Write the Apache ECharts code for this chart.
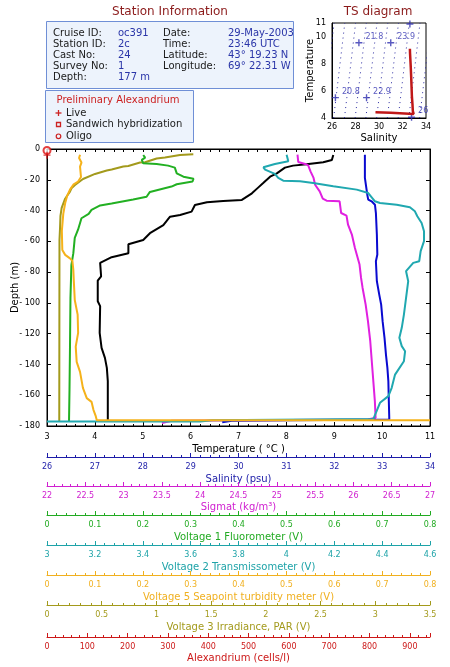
<!DOCTYPE html>
<html><head><meta charset="utf-8">
<script src="https://cdn.jsdelivr.net/npm/echarts@6.0.0/dist/echarts.min.js"></script>
<style>html,body{margin:0;padding:0;background:#fff}#chart{width:450px;height:667px}</style>
</head><body><div id="chart"></div><script>
const FONT = '"DejaVu Sans", Verdana, sans-serif';

// ---------- profile data (depth in m, negative down) ----------
const tempDepth = [-3.9,-7.1,-8.6,-9.9,-10.8,-12.1,-15.8,-18,-22.3,-25.1,-28.8,-33.1,-33.8,-34.6,-36.4,-40.7,-42.9,-44,-49.4,-54.7,-59.1,-61.9,-67.7,-70.3,-74,-75.1,-82.7,-85.5,-98.9,-102.1,-119.5,-129.2,-135.7,-142.2,-150.8,-163.6,-176.8];
const tempVal   = [8.98,8.95,8.77,8.42,8.14,7.97,7.80,7.66,7.51,7.41,7.28,7.07,6.68,6.34,6.09,6.02,5.78,5.57,5.43,5.15,5.01,4.70,4.70,4.35,4.11,4.07,4.13,4.06,4.06,4.11,4.10,4.14,4.21,4.25,4.27,4.27,4.27];

const salDepth = [-3.7,-18.8,-29.7,-32.9,-34,-36.2,-41.6,-55.6,-68.6,-72.9,-85.9,-94.6,-101.1,-111.9,-122.7,-133.6,-142.2,-150.8,-163.8,-175.8,-176.2,-176.6,-177.6];
const salVal   = [32.64,32.64,32.69,32.71,32.78,32.85,32.87,32.89,32.90,32.87,32.89,32.94,32.98,33.01,33.05,33.08,33.11,33.13,33.14,33.15,33.15,29.86,29.66];

const sigDepth = [-3.7,-8.4,-9.7,-10.6,-14.5,-18.8,-23.2,-27.5,-32.3,-33.6,-34,-41.6,-43.3,-49.2,-55.6,-64.3,-69.7,-75.1,-83.8,-90.3,-101.1,-111.9,-124.9,-137.9,-150.8,-163.8,-174.7,-175.8,-176.6,-178];
const sigVal   = [25.27,25.28,25.37,25.41,25.44,25.48,25.50,25.56,25.60,25.65,25.82,25.84,25.91,25.93,25.98,26.02,26.05,26.08,26.10,26.12,26.16,26.19,26.22,26.24,26.26,26.28,26.29,26.19,23.63,23.50];

const fluDepth = [-3.9,-5.6,-7.1,-9.3,-9.7,-10.8,-12.1,-15.8,-18,-19.3,-21.1,-22.9,-24.4,-25.5,-27.9,-31,-32.8,-35.4,-36.7,-39.6,-42.2,-45,-52.3,-57.8,-67.7,-75.3,-96.8,-129.2,-156.5,-176.8];
const fluVal   = [0.201,0.205,0.198,0.201,0.229,0.253,0.267,0.271,0.285,0.306,0.304,0.271,0.260,0.257,0.215,0.208,0.180,0.135,0.111,0.093,0.087,0.072,0.065,0.058,0.055,0.051,0.049,0.048,0.047,0.046];

const traDepth = [-3.7,-8.0,-9.7,-11.9,-13.4,-16.2,-18.8,-20.6,-21,-22.1,-24.2,-26.4,-28.6,-34,-35.1,-36.2,-37.9,-40.5,-43.7,-48.1,-53.4,-59.9,-66.4,-72.9,-74,-79.4,-85.9,-96.8,-107.6,-116.2,-122.7,-128.1,-131.4,-137.9,-146.6,-155.2,-160.6,-164.9,-170.3,-175.5,-176.2,-177.0,-177.0];
const traVal   = [4.001,4.008,3.952,3.904,3.911,3.952,3.966,3.987,4.057,4.112,4.196,4.294,4.342,4.370,4.391,4.461,4.516,4.537,4.547,4.565,4.575,4.575,4.561,4.555,4.530,4.500,4.509,4.500,4.491,4.482,4.472,4.482,4.496,4.491,4.454,4.440,4.426,4.391,4.377,4.363,3.690,3.640,3.0];

const turDepth = [-3.7,-5.8,-8.8,-9.7,-11.4,-18.2,-21.1,-23.2,-26.4,-30.5,-35.1,-42.2,-53.2,-65.6,-68.8,-71.1,-72.7,-78.6,-85.7,-98.1,-107.6,-119.5,-128.4,-138.3,-144.8,-155.2,-161.9,-164.3,-169.5,-173.8,-176.2,-176.3];
const turVal   = [0.069,0.067,0.072,0.075,0.069,0.071,0.065,0.055,0.048,0.042,0.038,0.034,0.031,0.032,0.038,0.048,0.053,0.055,0.056,0.058,0.064,0.065,0.060,0.062,0.069,0.075,0.083,0.093,0.097,0.102,0.104,0.8];

const parDepth = [-3.4,-3.9,-5.5,-6.2,-8.6,-8.8,-11.0,-11.4,-13.3,-14,-16.2,-19.5,-23.4,-25.3,-27.7,-32.5,-38.3,-43.5,-51.5,-59.1,-177.3];
const parVal   = [1.337,1.215,1.078,1.002,0.896,0.850,0.743,0.697,0.591,0.546,0.439,0.329,0.256,0.226,0.210,0.164,0.134,0.123,0.119,0.114,0.112];

const alexLiveDepth = [-4];  const alexLiveVal = [0];
const alexOligoDepth = [-1]; const alexOligoVal = [0];

// ---------- TS diagram data ----------
const tsSal  = [32.63,32.64,32.70,32.74,32.77,32.80,32.85,32.88,32.95,33.0,32.9,31.0,29.7];
const tsTemp = [9.1,8.8,7.8,7.0,6.3,5.6,5.0,4.5,4.3,4.2,4.35,4.38,4.42];
const isoSalBottom = [25.23,26.14,27.06,27.97,28.88,29.80,30.71,31.63,32.54,33.46];
const isoSalTop    = [26.18,27.09,28.01,28.92,29.83,30.75,31.66,32.58,33.49,34.41];
const isoTBottom = 4, isoTTop = 11;
const markSal   = [26.29,28.29,28.94,31.0,32.77,32.63];
const markTemp  = [5.5,9.55,5.5,9.55,4.05,10.93];
const markLabel = ['20.8','21.8','22.9','23.9','26',''];

// ---------- station info text ----------
const infoLabels1 = ['Cruise ID:','Station ID:','Cast No:','Survey No:','Depth:'];
const infoValues1 = ['oc391','2c','24','1','177 m'];
const infoLabels2 = ['Date:','Time:','Latitude:','Longitude:'];
const infoValues2 = ['29-May-2003','23:46 UTC','43\u00b0 19.23 N','69\u00b0 22.31 W'];
const legendItems = ['Live','Sandwich hybridization','Oligo'];

const pairs = (v, d) => v.map((x, i) => [x, d[i]]);

function lowerAxis(name, min, max, interval, offset, color, nameGap, extra) {
  return Object.assign({
    type: 'value', gridIndex: 0, position: 'bottom', offset, min, max, interval,
    name, nameLocation: 'middle', nameGap, nameMoveOverlap: false,
    nameTextStyle: { color, fontFamily: FONT, fontSize: 10 },
    axisLine: { show: true, onZero: false, lineStyle: { color, width: 1 } },
    axisTick: { show: true, inside: true, length: 4, lineStyle: { color } },
    minorTick: { show: true, splitNumber: 5, length: 2, lineStyle: { color } },
    axisLabel: { color, fontFamily: FONT, fontSize: 8, margin: 6 },
    splitLine: { show: false }, minorSplitLine: { show: false }
  }, extra || {});
}

const xAxes = [
  lowerAxis('Temperature ( \u00b0C )', 3, 11, 1, 0, '#000', 18, {axisLabel:{color:'#000',fontFamily:FONT,fontSize:8,margin:7}}),
  lowerAxis('Salinity (psu)', 26, 34, 1, 31, '#1c1ca8', 17),
  lowerAxis('Sigmat (kg/m\u00b3)', 22, 27, 0.5, 60, '#d020d0', 16),
  lowerAxis('Voltage 1 Fluorometer (V)', 0, 0.8, 0.1, 89, '#22aa22', 17),
  lowerAxis('Voltage 2 Transmissometer (V)', 3, 4.6, 0.2, 119, '#1ea3a8', 17),
  lowerAxis('Voltage 5 Seapoint turbidity meter (V)', 0, 0.8, 0.1, 149, '#f0b020', 17),
  lowerAxis('Voltage 3 Irradiance, PAR (V)', 0, 3.5, 0.5, 179, '#a39a1c', 17),
  lowerAxis('Alexandrium (cells/l)', 0, 950, 100, 211, '#cc1818', 16,
    {axisLabel:{color:'#cc1818',fontFamily:FONT,fontSize:8,margin:6,showMaxLabel:false}}),
  { type:'value', gridIndex:0, position:'top', min:3, max:11, interval:0.2,
    axisLine:{show:true,onZero:false,lineStyle:{color:'#000'}},
    axisTick:{show:true,inside:true,length:3,lineStyle:{color:'#000'}},
    axisLabel:{show:false}, splitLine:{show:false} },
  { type:'value', gridIndex:1, position:'bottom', min:26, max:34, interval:2,
    name:'Salinity', nameLocation:'middle', nameGap:15, nameMoveOverlap:false,
    nameTextStyle:{color:'#000',fontFamily:FONT,fontSize:10},
    axisLine:{show:true,onZero:false,lineStyle:{color:'#000'}},
    axisTick:{show:false}, axisLabel:{color:'#000',fontFamily:FONT,fontSize:8,margin:5},
    splitLine:{show:false} }
];

const yAxes = [
  { type:'value', gridIndex:0, position:'left', min:-180, max:0, interval:20,
    name:'Depth (m)', nameLocation:'middle', nameGap:27, nameMoveOverlap:false,
    nameTextStyle:{color:'#000',fontFamily:FONT,fontSize:10},
    axisLine:{show:true,onZero:false,lineStyle:{color:'#000'}},
    axisTick:{show:true,inside:true,length:4,lineStyle:{color:'#000'}},
    axisLabel:{color:'#000',fontFamily:FONT,fontSize:8,margin:7,
      formatter: v => v === 0 ? '0' : '- ' + (-v)},
    splitLine:{show:false} },
  { type:'value', gridIndex:0, position:'right', min:-180, max:0, interval:20,
    axisLine:{show:true,onZero:false,lineStyle:{color:'#000'}},
    axisTick:{show:true,inside:true,length:4,lineStyle:{color:'#000'}},
    axisLabel:{show:false}, splitLine:{show:false} },
  { type:'value', gridIndex:1, position:'left', min:4, max:11, interval:2,
    name:'Temperature', nameLocation:'middle', nameGap:17, nameMoveOverlap:false,
    nameTextStyle:{color:'#000',fontFamily:FONT,fontSize:10},
    axisLine:{show:true,onZero:false,lineStyle:{color:'#000'}},
    axisTick:{show:false}, axisLabel:{color:'#000',fontFamily:FONT,fontSize:8,margin:6},
    splitLine:{show:false} }
];

function prof(data, xi, color, z) {
  return { type:'line', xAxisIndex:xi, yAxisIndex:0, data, showSymbol:false, symbol:'none',
    lineStyle:{color, width:2}, z: z || 2, silent:true, clip:true };
}

const plusPath = 'path://M4,0h2v4h4v2h-4v4h-2v-4h-4v-2h4z';

const series = [
  prof(pairs(parVal, parDepth), 6, '#a39a1c'),
  prof(pairs(fluVal, fluDepth), 3, '#22b022'),
  prof(pairs(tempVal, tempDepth), 0, '#000000'),
  prof(pairs(sigVal, sigDepth), 2, '#e020e0'),
  prof(pairs(salVal, salDepth), 1, '#0a0ad0'),
  prof(pairs(traVal, traDepth), 4, '#20a8b0'),
  prof(pairs(turVal, turDepth), 5, '#f5b21a', 5),
  { type:'scatter', xAxisIndex:7, yAxisIndex:0, data:pairs(alexOligoVal, alexOligoDepth),
    symbol:'emptyCircle', symbolSize:7, itemStyle:{color:'#dd1111', borderWidth:1.3}, clip:false, z:10 },
  { type:'scatter', xAxisIndex:7, yAxisIndex:0, data:pairs(alexLiveVal, alexLiveDepth),
    symbol:plusPath, symbolSize:7, itemStyle:{color:'#dd1111'}, clip:false, z:10 }
];

isoSalBottom.forEach((s, i) => {
  series.push({ type:'line', xAxisIndex:9, yAxisIndex:2, data:[[s, isoTBottom],[isoSalTop[i], isoTTop]],
    showSymbol:false, symbol:'none', clip:true, silent:true,
    lineStyle:{color:'#2a2aa0', width:1, type:[1,4]} });
});
series.push({ type:'scatter', xAxisIndex:9, yAxisIndex:2,
  data: markSal.map((s, i) => ({ value:[s, markTemp[i]], label:{ show: markLabel[i] !== '', formatter: markLabel[i] } })),
  symbol:plusPath, symbolSize:7, itemStyle:{color:'#3030b0'}, clip:false,
  label:{ position:'right', offset:[-2,-6], color:'#3030b0', fontFamily:FONT, fontSize:8 } });
series.push({ type:'line', xAxisIndex:9, yAxisIndex:2, data:pairs(tsSal, tsTemp),
  showSymbol:false, symbol:'none', lineStyle:{color:'#c01818', width:2.5}, z:4 });

// ---------- graphics: boxes and texts ----------
const graphics = [];
function txt(x, y, text, color, size, align, weight) {
  graphics.push({ type:'text', x, y, z:100, silent:true,
    style:{ text, fill:color, font:(weight||'normal') + ' ' + size + 'px ' + FONT,
      align: align || 'left', verticalAlign:'middle', textAlign: align || 'left', textVerticalAlign:'middle' } });
}
txt(170, 12, 'Station Information', '#8b1a1a', 12, 'center');
txt(378, 12, 'TS diagram', '#8b1a1a', 12, 'center');
graphics.push({ type:'rect', shape:{x:46.5,y:21.5,width:247,height:67}, z:90, silent:true,
  style:{fill:'#edf3fc', stroke:'#6f8fd6', lineWidth:1} });
infoLabels1.forEach((t, i) => { txt(53, 33 + i*11, t, '#1a1a1a', 10); txt(118, 33 + i*11, infoValues1[i], '#2a35a8', 10); });
infoLabels2.forEach((t, i) => { txt(163, 33 + i*11, t, '#1a1a1a', 10); txt(228, 33 + i*11, infoValues2[i], '#2a35a8', 10); });

graphics.push({ type:'rect', shape:{x:45.5,y:90.5,width:148,height:52}, z:90, silent:true,
  style:{fill:'#edf3fc', stroke:'#6f8fd6', lineWidth:1} });
txt(118, 100, 'Preliminary Alexandrium', '#cc2222', 10, 'center');
legendItems.forEach((t, i) => txt(66, 113 + i*11.6, t, '#1a1a1a', 10));
graphics.push({ type:'line', shape:{x1:55.5,y1:113,x2:61.5,y2:113}, z:100, silent:true, style:{stroke:'#cc2222',lineWidth:1.3} });
graphics.push({ type:'line', shape:{x1:58.5,y1:110,x2:58.5,y2:116}, z:100, silent:true, style:{stroke:'#cc2222',lineWidth:1.3} });
graphics.push({ type:'rect', shape:{x:56.5,y:122.5,width:4,height:4}, z:100, silent:true, style:{fill:'none',stroke:'#cc2222',lineWidth:1.3} });
graphics.push({ type:'circle', shape:{cx:58.5,cy:136.3,r:2.3}, z:100, silent:true, style:{fill:'none',stroke:'#cc2222',lineWidth:1.2} });

const chart = echarts.init(document.getElementById('chart'), null, {renderer:'canvas'});
chart.setOption({
  animation:false,
  backgroundColor:'#fff',
  textStyle:{fontFamily:FONT},
  grid:[
    {left:47, top:149, width:383, height:277, show:true, borderColor:'#000', borderWidth:1, backgroundColor:'transparent', containLabel:false, outerBoundsMode:'none'},
    {left:332, top:23, width:94, height:95, show:true, borderColor:'#000', borderWidth:1, backgroundColor:'transparent', containLabel:false, outerBoundsMode:'none'}
  ],
  xAxis: xAxes,
  yAxis: yAxes,
  series,
  graphic: graphics
});
</script></body></html>
